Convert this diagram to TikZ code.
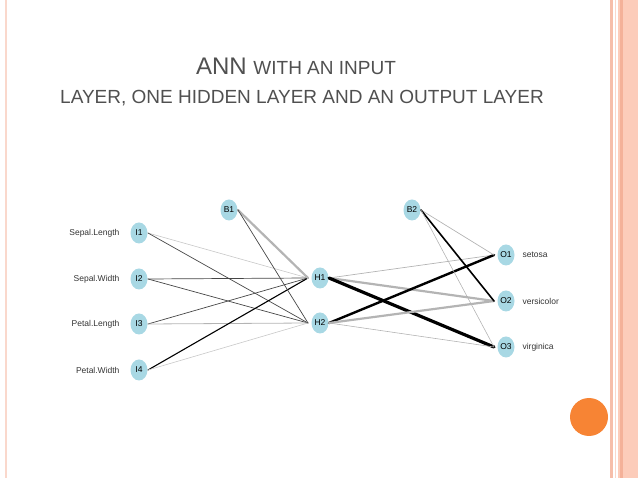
\documentclass[tikz,border=0pt]{standalone}
\usepackage{fontspec}
\setmainfont{Liberation Sans}
\definecolor{nodeblue}{RGB}{168,216,228}
\definecolor{salmon}{RGB}{246,190,170}
\definecolor{salmonlight}{RGB}{252,204,186}
\definecolor{orng}{RGB}{247,132,52}
\definecolor{titlegray}{RGB}{80,80,80}
\definecolor{lg}{RGB}{200,200,200}
\definecolor{mg}{RGB}{180,180,180}
\definecolor{dg}{RGB}{70,70,70}
\begin{document}
\begin{tikzpicture}[x=1pt,y=-1pt,
  nn/.style={ellipse,fill=nodeblue,minimum width=17pt,minimum height=21pt,inner sep=0pt,font=\fontsize{8.5}{9}\selectfont},
  lbl/.style={font=\fontsize{8.5}{9}\selectfont,text=black!80},
  e/.style={line cap=round},
  ]
\usetikzlibrary{shapes.geometric}
\useasboundingbox (0,0) rectangle (638,478);
% borders
\fill[salmon!60] (5,0) rectangle (7,478);
\fill[salmon] (609.5,0) rectangle (612.5,478);
\fill[salmon!60] (614.5,0) rectangle (616,478);
\fill[salmonlight] (618,0) rectangle (638,478);
\fill[salmon!120] (620,0) rectangle (623,478);
\fill[orng] (589,417) circle (19);
% title
\node[text=titlegray,anchor=base] (t1) at (296,75) {\fontsize{24}{28}\selectfont ANN \fontsize{19}{22}\selectfont WITH AN INPUT};
\node[text=titlegray,anchor=base] (t2) at (302,104) {\fontsize{19}{22}\selectfont LAYER, ONE HIDDEN LAYER AND AN OUTPUT LAYER};
% nodes
\node[nn] (I1) at (139,233) {I1};
\node[nn] (I2) at (139,279) {I2};
\node[nn] (I3) at (139,324) {I3};
\node[nn] (I4) at (139,370) {I4};
\node[nn] (B1) at (229,210) {B1};
\node[nn] (H1) at (320,278) {H1};
\node[nn] (H2) at (320,323) {H2};
\node[nn] (B2) at (412,210) {B2};
\node[nn] (O1) at (506,255) {O1};
\node[nn] (O2) at (506,301) {O2};
\node[nn] (O3) at (506,347) {O3};
\node[lbl,anchor=east] (L1) at (123,233) {Sepal.Length};
\node[lbl,anchor=east] (L2) at (123,279) {Sepal.Width};
\node[lbl,anchor=east] (L3) at (123,324) {Petal.Length};
\node[lbl,anchor=east] (L4) at (123,370) {Petal.Width};
\node[lbl,anchor=west] (R1) at (519,255) {setosa};
\node[lbl,anchor=west] (R2) at (519,301) {versicolor};
\node[lbl,anchor=west] (R3) at (519,347) {virginica};
% anchor coords
\foreach \n in {I1,I2,I3,I4,B1,B2,H1,H2}{\coordinate (\n o) at ([xshift=9pt]\n.center);}
\foreach \n in {H1,H2,O1,O2,O3}{\coordinate (\n i) at ([xshift=-12pt]\n.center);}
% edges input->hidden
\draw[e,lg,line width=0.6] (I1o) -- (H1i);
\draw[e,dg,line width=0.7] (I1o) -- (H2i);
\draw[e,dg,line width=0.7] (I2o) -- (H1i);
\draw[e,dg,line width=0.7] (I2o) -- (H2i);
\draw[e,dg,line width=0.7] (I3o) -- (H1i);
\draw[e,mg,line width=0.8] (I3o) -- (H2i);
\draw[e,black,line width=1.1] (I4o) -- (H1i);
\draw[e,lg,line width=0.6] (I4o) -- (H2i);
\draw[e,mg,line width=2.2] (B1o) -- (H1i);
\draw[e,dg,line width=0.7] (B1o) -- (H2i);
% hidden->output
\draw[e,mg,line width=0.7] (H1o) -- (O1i);
\draw[e,mg,line width=2.2] (H1o) -- (O2i);
\draw[e,black,line width=3.2] (H1o) -- (O3i);
\draw[e,black,line width=2.4] (H2o) -- (O1i);
\draw[e,mg,line width=2.2] (H2o) -- (O2i);
\draw[e,mg,line width=0.6] (H2o) -- (O3i);
\draw[e,mg,line width=0.7] (B2o) -- (O1i);
\draw[e,black,line width=1.6] (B2o) -- (O2i);
\draw[e,mg,line width=0.6] (B2o) -- (O3i);
\end{tikzpicture}
\end{document}
